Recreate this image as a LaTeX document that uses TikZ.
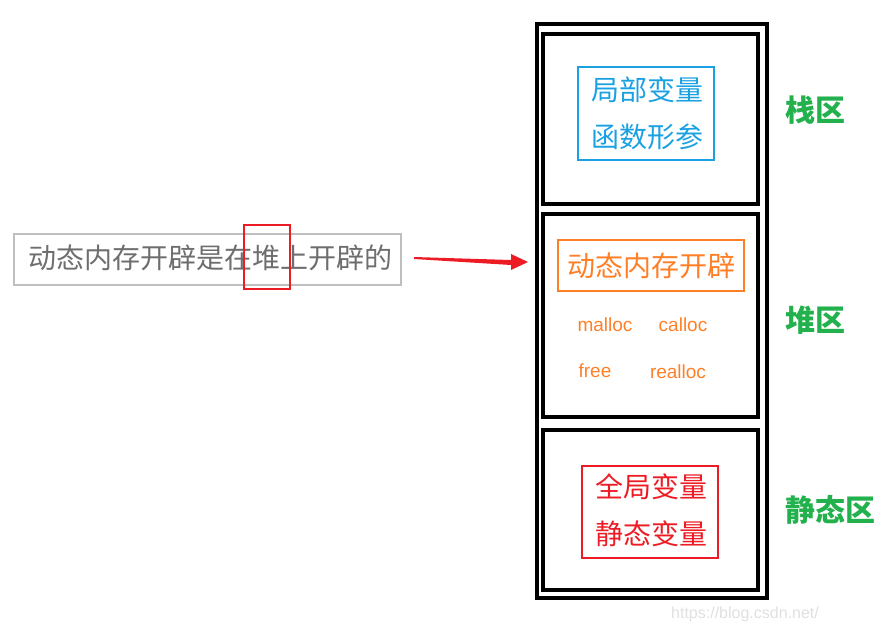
\documentclass[tikz,border=0pt]{standalone}
\usepackage{fontspec}
\setmainfont{Noto Sans CJK SC}
\newfontfamily\latinf{Liberation Sans}
\usetikzlibrary{arrows.meta}
\definecolor{sblue}{HTML}{1BA1E2}
\definecolor{sorange}{HTML}{FF7F27}
\definecolor{sred}{HTML}{ED1C24}
\definecolor{sgreen}{HTML}{22B14C}
\definecolor{sgrey}{HTML}{6E6E6E}
\begin{document}
\begin{tikzpicture}[x=1pt,y=-1pt,
  blk/.style={draw=black,line width=4.5pt},
  cjk/.style={font=\fontsize{28}{47}\selectfont,align=center,inner sep=0},
  lat/.style={font=\latinf\fontsize{19}{22}\selectfont,text=sorange,inner sep=0},
  lab/.style={font=\fontsize{30}{34}\selectfont\bfseries,text=sgreen,inner sep=0}]
\useasboundingbox (0,0) rectangle (891,635);
\draw[blk] (537,24) rectangle (767,598);
\draw[blk,line width=4pt] (543,34) rectangle (758,204);
\draw[blk,line width=4pt] (543,214) rectangle (758,417);
\draw[blk,line width=4pt] (543,430) rectangle (758,590);
\draw[draw=sblue,line width=2pt] (578,67) rectangle (714,160);
\node[cjk,text=sblue] (stk) at (647,113.5) {局部变量\\函数形参};
\draw[draw=sorange,line width=2pt] (558,240) rectangle (744,291);
\node[cjk,text=sorange] (dyn) at (651,265.5) {动态内存开辟};
\node[lat] (m) at (605,325) {malloc};
\node[lat] (c) at (683,325) {calloc};
\node[lat] (f) at (595,371) {free};
\node[lat] (r) at (678,372) {realloc};
\draw[draw=sred,line width=2pt] (582,466) rectangle (718,558);
\node[cjk,text=sred] (st) at (651,510) {全局变量\\静态变量};
\node[lab] (l1) at (815,110) {栈区};
\node[lab] (l2) at (815,320) {堆区};
\node[lab] (l3) at (830,510) {静态区};
\draw[draw=black!25,line width=2pt] (14,234) rectangle (401,285);
\node[cjk,text=sgrey] (txt) at (210,258) {动态内存开辟是在堆上开辟的};
\draw[draw=sred,line width=1.8pt] (244,225) rectangle (290,289);
\fill[sred] (414,257) -- (511,260) -- (511,254) -- (528,262) -- (511,270) -- (511,265) -- (414,259) -- cycle;
\node[font=\latinf\fontsize{16}{18}\selectfont,text=black!12,inner sep=0] (wm) at (745,614) {https://blog.csdn.net/};
\end{tikzpicture}
\end{document}
